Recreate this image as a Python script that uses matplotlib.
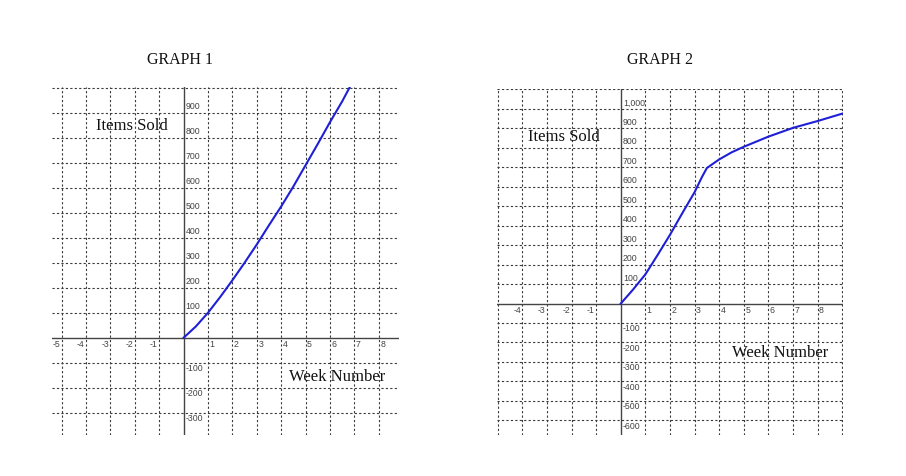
import matplotlib
matplotlib.use("Agg")
import matplotlib.pyplot as plt
import numpy as np

# ---- data ----
g1_weeks = [0, 0.5, 1, 1.5, 2, 2.5, 3, 3.5, 4, 4.5, 5, 5.5, 6, 6.5, 6.8]
g1_items = [0, 45, 100, 163, 230, 300, 373, 450, 525, 605, 690, 775, 862, 945, 1000]

g2_weeks = [0, 0.5, 1, 1.5, 2, 2.5, 3, 3.3, 3.5, 4, 4.5, 5, 6, 7, 8, 9]
g2_items = [0, 72, 150, 250, 353, 464, 572, 650, 696, 740, 776, 805, 857, 902, 937, 975]

g1_xticks = [-5, -4, -3, -2, -1, 1, 2, 3, 4, 5, 6, 7, 8]
g1_yticks = [-300, -200, -100, 100, 200, 300, 400, 500, 600, 700, 800, 900]
g2_xticks = [-5, -4, -3, -2, -1, 1, 2, 3, 4, 5, 6, 7, 8, 9]
g2_yticks = [-600, -500, -400, -300, -200, -100, 100, 200, 300, 400, 500, 600,
             700, 800, 900, 1000]

W, H = 906, 476
fig = plt.figure(figsize=(W / 100, H / 100), dpi=100)

SERIF = ['Liberation Serif', 'DejaVu Serif']
SANS = ['Liberation Sans', 'DejaVu Sans']
GRID_C = '#3a3a3a'
LAB_C = '#444444'
LINE_C = '#1f1fd6'


def px_axes(l, t, r, b):
    return fig.add_axes([l / W, 1 - b / H, (r - l) / W, (b - t) / H])


def draw_graph(ax, xlim, ylim, xgrid, ygrid, xticks, yticks, xs, ys, fmt):
    ax.set_xlim(*xlim)
    ax.set_ylim(*ylim)
    for s in ax.spines.values():
        s.set_visible(False)
    ax.set_xticks([])
    ax.set_yticks([])
    for gx in xgrid:
        ax.axvline(gx, color=GRID_C, lw=0.8, ls=(0, (2, 2)), zorder=1)
    for gy in ygrid:
        ax.axhline(gy, color=GRID_C, lw=0.8, ls=(0, (2, 2)), zorder=1)
    ax.axhline(0, color='#444444', lw=1.0, zorder=2)
    ax.axvline(0, color='#444444', lw=1.0, zorder=2)
    dx = (xlim[1] - xlim[0]) * 0.004
    for v in xticks:
        ax.text(v + (dx if v > 0 else -dx), 0 - (ylim[1] - ylim[0]) * 0.008,
                str(v), ha='left' if v > 0 else 'right', va='top',
                fontsize=6.3, color=LAB_C, family=SANS, clip_on=True, zorder=3)
    dy = (ylim[1] - ylim[0]) * 0.004
    for v in yticks:
        ax.text(0 + (xlim[1] - xlim[0]) * 0.006, v + (dy if v > 0 else -dy),
                fmt(v), ha='left', va='bottom' if v > 0 else 'top',
                fontsize=6.3, color=LAB_C, family=SANS, clip_on=True, zorder=3)
    ax.plot(xs, ys, color=LINE_C, lw=1.5, zorder=4, solid_joinstyle='round',
            clip_on=True)


# Graph 1
ax1 = px_axes(51.7, 87.3, 399.3, 435)
draw_graph(ax1, (-5.41, 8.84), (-389, 1001),
           [-5, -4, -3, -2, -1, 1, 2, 3, 4, 5, 6, 7, 8],
           list(range(-300, 0, 100)) + list(range(100, 1001, 100)),
           g1_xticks, g1_yticks, g1_weeks, g1_items, lambda v: str(v))

# Graph 2
ax2 = px_axes(497.3, 89.3, 842.7, 435)
draw_graph(ax2, (-5.02, 9.02), (-675, 1100),
           [-5, -4, -3, -2, -1, 1, 2, 3, 4, 5, 6, 7, 8, 9],
           list(range(-600, 0, 100)) + list(range(100, 1101, 100)),
           g2_xticks, g2_yticks, g2_weeks, g2_items, lambda v: f"{v:,}")

# Titles and labels (figure pixel coordinates)
def ftext(x, y, s, size):
    fig.text(x / W, 1 - y / H, s, ha='center', va='center', fontsize=size,
             family=SERIF, color='#111111')

ftext(180, 60, 'GRAPH 1', 11.5)
ftext(660, 60, 'GRAPH 2', 11.5)
ftext(131.7, 126, 'Items Sold', 12)
ftext(336.7, 377.3, 'Week Number', 12)
ftext(564.3, 136.7, 'Items Sold', 12)
ftext(780, 352.7, 'Week Number', 12)

fig.savefig('out.png', dpi=100, facecolor='white')
